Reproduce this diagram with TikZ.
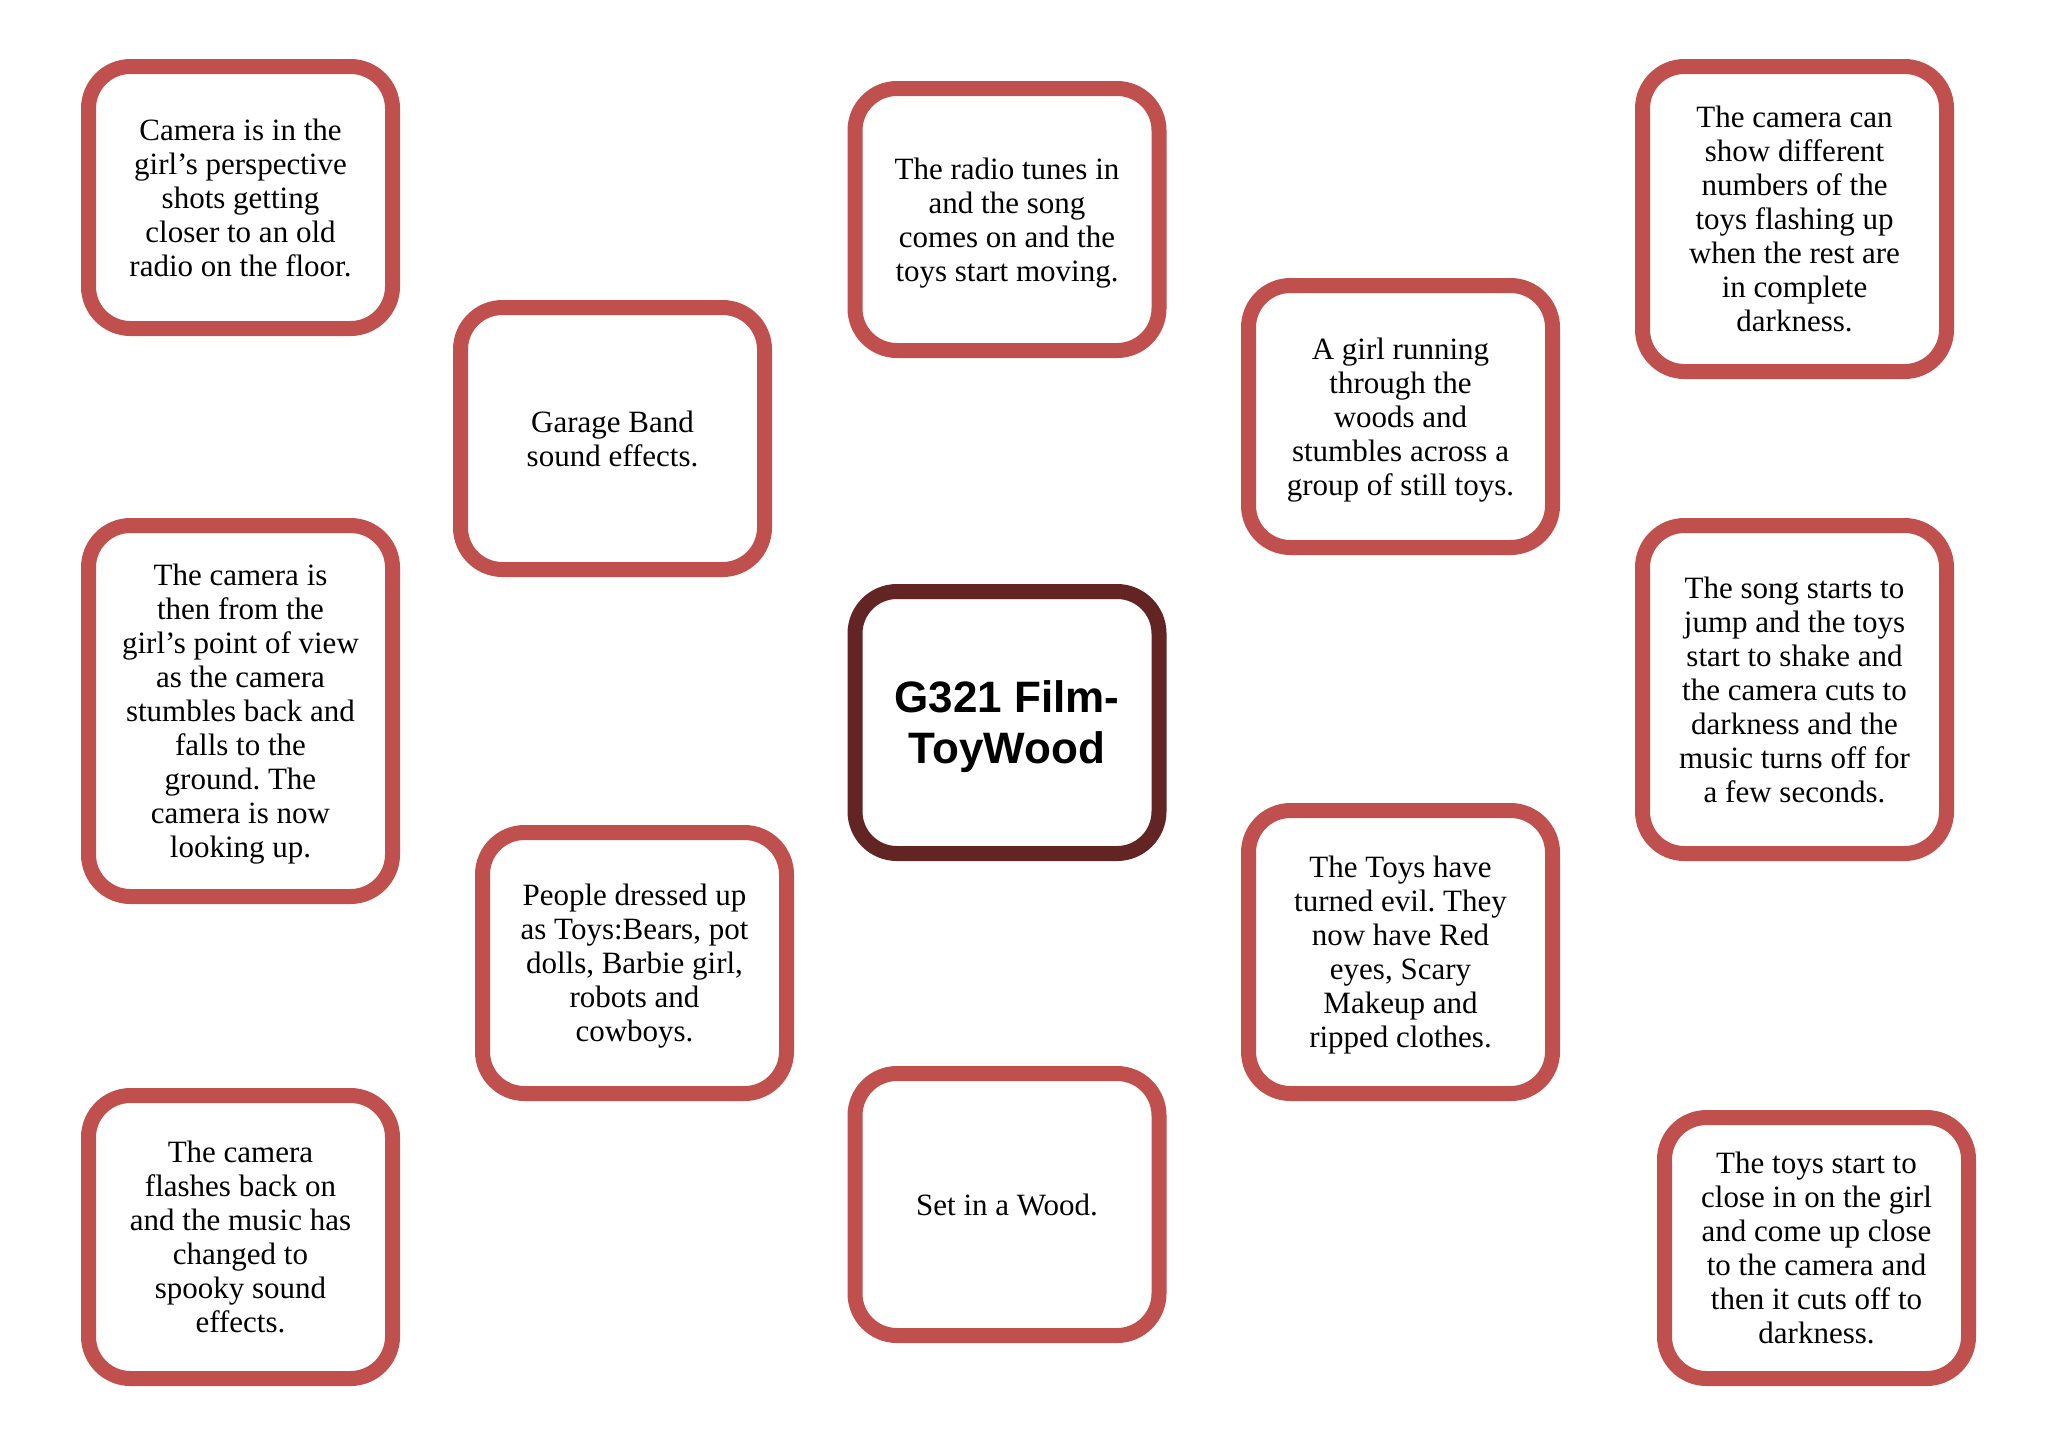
\documentclass[tikz,border=0pt]{standalone}
\usepackage{fontspec}
\setmainfont{Liberation Serif}
\newfontfamily\titlefont{Liberation Sans}
\usetikzlibrary{shadows}
\frenchspacing
\definecolor{boxred}{HTML}{C0504D}
\definecolor{boxbrown}{HTML}{632523}
\tikzstyle{scene} = [rectangle, rounded corners=21pt, draw=boxred, line width=7.5pt, fill=white, minimum width=152pt, minimum height=131pt, align=center, text depth=-1pt, font=\fontsize{15.5}{17}\selectfont, drop shadow={shadow xshift=0.8pt, shadow yshift=-1.6pt, fill=black!30, opacity=0.7}]
\tikzstyle{title} = [scene, draw=boxbrown, font=\titlefont\bfseries\fontsize{22}{25.5}\selectfont]

\begin{document}
\begin{tikzpicture}[x=0.5pt, y=-0.5pt]

        \fill[white] (0,0) rectangle (2048,1447);

        % left column
        \node (radioshot) [scene] at (240.5,197.5) {Camera is in the\\girl’s perspective\\shots getting\\closer to an old\\radio on the floor.};
        \node (pov) [scene, minimum height=185.5pt] at (240.5,711) {The camera is\\then from the\\girl’s point of view\\as the camera\\stumbles back and\\falls to the\\ground. The\\camera is now\\looking up.};
        \node (flashback) [scene, minimum height=141.5pt] at (240.5,1237) {The camera\\flashes back on\\and the music has\\changed to\\spooky sound\\effects.};

        % second column
        \node (garage) [scene] at (612.5,438.5) {Garage Band\\sound effects.};
        \node (costumes) [scene, minimum height=130.5pt] at (634.5,963) {People dressed up\\as Toys:Bears, pot\\dolls, Barbie girl,\\robots and\\cowboys.};

        % middle column
        \node (radio) [scene] at (1007,219.5) {The radio tunes in\\and the song\\comes on and the\\toys start moving.};
        \node (film) [title] at (1007,722.5) {G321 Film-\\ToyWood};
        \node (wood) [scene] at (1007,1204.5) {Set in a Wood.};

        % fourth column
        \node (running) [scene] at (1400.5,416.5) {A girl running\\through the\\woods and\\stumbles across a\\group of still toys.};
        \node (evil) [scene, minimum height=141.5pt] at (1400.5,952) {The Toys have\\turned evil. They\\now have Red\\eyes, Scary\\Makeup and\\ripped clothes.};

        % right column
        \node (flashing) [scene, minimum height=152.5pt] at (1794.5,219) {The camera can\\show different\\numbers of the\\toys flashing up\\when the rest are\\in complete\\darkness.};
        \node (jump) [scene, minimum height=164pt] at (1794.5,689.5) {The song starts to\\jump and the toys\\start to shake and\\the camera cuts to\\darkness and the\\music turns off for\\a few seconds.};
        \node (closein) [scene, minimum height=130.5pt] at (1816.5,1248) {The toys start to\\close in on the girl\\and come up close\\to the camera and\\then it cuts off to\\darkness.};

\end{tikzpicture}
\end{document}
